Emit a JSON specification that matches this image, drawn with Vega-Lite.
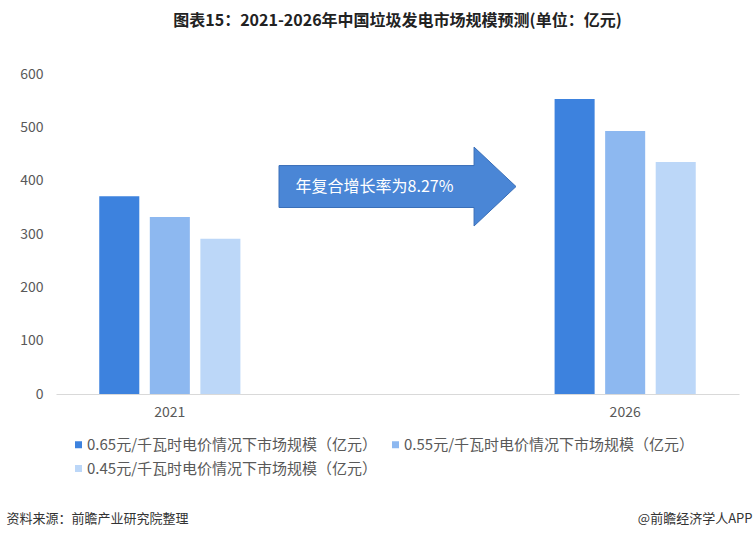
{
  "$schema": "https://vega.github.io/schema/vega-lite/v6.json",
  "width": 683,
  "height": 320,
  "autosize": {"type": "none"},
  "padding": {"left": 56, "top": 74, "right": 16, "bottom": 144},
  "background": "white",
  "title": {
    "text": "图表15：2021-2026年中国垃圾发电市场规模预测(单位：亿元)",
    "font": "Noto Sans CJK SC",
    "fontSize": 16,
    "fontWeight": "bold",
    "color": "#222222",
    "anchor": "middle",
    "offset": 38
  },
  "config": {
    "view": {"stroke": null},
    "font": "Noto Sans CJK SC"
  },
  "layer": [
    {
      "data": {
        "values": [
          {"year": "2021", "series": "0.65元/千瓦时电价情况下市场规模（亿元）", "value": 371},
          {"year": "2021", "series": "0.55元/千瓦时电价情况下市场规模（亿元）", "value": 332},
          {"year": "2021", "series": "0.45元/千瓦时电价情况下市场规模（亿元）", "value": 291},
          {"year": "2026", "series": "0.65元/千瓦时电价情况下市场规模（亿元）", "value": 553},
          {"year": "2026", "series": "0.55元/千瓦时电价情况下市场规模（亿元）", "value": 493},
          {"year": "2026", "series": "0.45元/千瓦时电价情况下市场规模（亿元）", "value": 435}
        ]
      },
      "mark": {"type": "bar"},
      "encoding": {
        "x": {
          "field": "year",
          "type": "nominal",
          "scale": {"domain": ["2021", "mid", "2026"], "paddingInner": 0.38, "paddingOuter": 0.19},
          "axis": {
            "title": "资料来源：前瞻产业研究院整理",
            "titleFont": "Noto Sans CJK SC",
            "titleFontSize": 13,
            "titleFontWeight": "normal",
            "titleColor": "#333333",
            "titleAnchor": "start",
            "titleAlign": "left",
            "titleBaseline": "middle",
            "titleX": -50,
            "titleY": 124,
            "labelAngle": 0,
            "labelFontSize": 14,
            "labelColor": "#595959",
            "labelPadding": 11,
            "ticks": false,
            "tickSize": 0,
            "domainColor": "#d9d9d9",
            "labelExpr": "datum.value == 'mid' ? '' : datum.value"
          }
        },
        "xOffset": {
          "field": "series",
          "type": "nominal",
          "scale": {
            "domain": ["0.65元/千瓦时电价情况下市场规模（亿元）", "0.55元/千瓦时电价情况下市场规模（亿元）", "0.45元/千瓦时电价情况下市场规模（亿元）"],
            "paddingInner": 0.208,
            "paddingOuter": 0
          }
        },
        "y": {
          "field": "value",
          "type": "quantitative",
          "scale": {"domain": [0, 600]},
          "axis": {
            "title": null,
            "values": [0, 100, 200, 300, 400, 500, 600],
            "grid": false,
            "domain": false,
            "ticks": false,
            "tickSize": 0,
            "labelPadding": 13,
            "labelFontSize": 14,
            "labelColor": "#595959"
          }
        },
        "color": {
          "field": "series",
          "type": "nominal",
          "scale": {
            "domain": ["0.65元/千瓦时电价情况下市场规模（亿元）", "0.55元/千瓦时电价情况下市场规模（亿元）", "0.45元/千瓦时电价情况下市场规模（亿元）"],
            "range": ["#3d82de", "#8db8f0", "#bcd7f8"]
          },
          "legend": {
            "orient": "none",
            "direction": "horizontal",
            "legendX": 15,
            "legendY": 363,
            "columns": 2,
            "title": null,
            "symbolType": "square",
            "symbolSize": 49,
            "symbolStrokeWidth": 0,
            "labelFontSize": 15,
            "labelColor": "#595959",
            "labelLimit": 0,
            "labelOffset": 1,
            "columnPadding": 10,
            "rowPadding": 8
          }
        }
      }
    },
    {
      "data": {
        "values": [
          {"year": "mid", "value": 389, "label": "年复合增长率为8.27%"}
        ]
      },
      "encoding": {
        "x": {"field": "year", "type": "nominal"},
        "y": {
          "field": "value",
          "type": "quantitative",
          "scale": {"domain": [0, 600]},
          "axis": {
            "orient": "right",
            "title": "@前瞻经济学人APP",
            "titleFont": "Noto Sans CJK SC",
            "titleFontSize": 13,
            "titleFontWeight": "normal",
            "titleColor": "#333333",
            "titleAngle": 0,
            "titleAlign": "right",
            "titleBaseline": "middle",
            "titleX": 13,
            "titleY": 444,
            "labels": false,
            "ticks": false,
            "domain": false,
            "grid": false
          }
        }
      },
      "layer": [
        {
          "mark": {
            "type": "point",
            "shape": "M-1,-0.177 L0.646,-0.177 L0.646,-0.333 L1,0 L0.646,0.333 L0.646,0.177 L-1,0.177 Z",
            "size": 56169,
            "filled": true,
            "fill": "#4a86d6",
            "stroke": "#3a6fb8",
            "strokeWidth": 1,
            "opacity": 1
          }
        },
        {
          "mark": {
            "type": "text",
            "align": "center",
            "baseline": "middle",
            "dx": -23,
            "fontSize": 16,
            "color": "white",
            "font": "Noto Sans CJK SC"
          },
          "encoding": {"text": {"field": "label"}}
        }
      ]
    }
  ],
  "resolve": {"scale": {"y": "independent"}}
}
